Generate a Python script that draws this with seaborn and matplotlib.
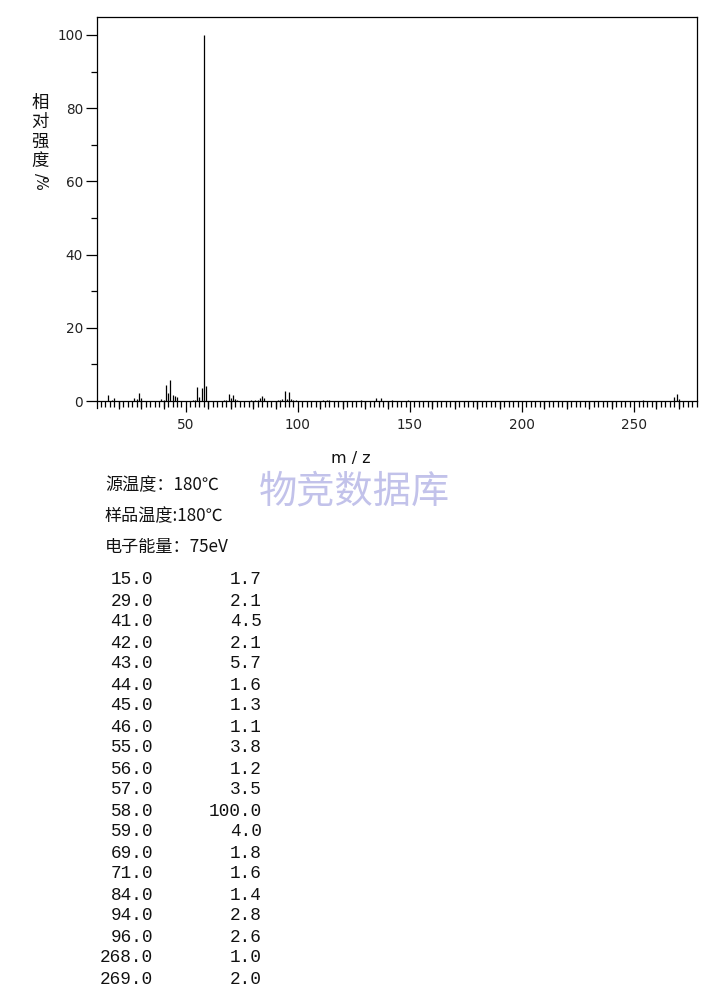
import numpy as np
import pandas as pd
import matplotlib
matplotlib.use("Agg")
import matplotlib.pyplot as plt
from matplotlib.ticker import MultipleLocator, FixedLocator
import seaborn as sns

# ---- data ----
peak_mz = [15, 17, 18, 27, 28, 29, 30, 39, 40, 41, 42, 43, 44, 45, 46, 53, 54, 55, 56, 57,
           58, 59, 67, 68, 69, 70, 71, 72, 73, 79, 81, 82, 83, 84, 85, 91, 92, 93, 94, 95,
           96, 97, 98, 99, 111, 113, 114, 128, 135, 137, 142, 149, 254, 268, 269, 270]
peak_int = [1.7, 0.3, 0.8, 0.8, 0.5, 2.1, 0.8, 0.5, 0.3, 4.5, 2.1, 5.7, 1.6, 1.3, 1.1, 0.3, 0.3, 3.8, 1.2, 3.5,
            100.0, 4.0, 0.3, 0.3, 1.8, 0.8, 1.6, 0.5, 0.3, 0.3, 0.3, 0.3, 0.8, 1.4, 0.8, 0.3, 0.3, 0.5, 2.8, 0.5,
            2.6, 0.5, 0.3, 0.3, 0.3, 0.3, 0.3, 0.3, 0.8, 0.8, 0.3, 0.3, 0.3, 1.0, 2.0, 0.5]

table_mz = [15.0, 29.0, 41.0, 42.0, 43.0, 44.0, 45.0, 46.0, 55.0, 56.0, 57.0, 58.0, 59.0,
            69.0, 71.0, 84.0, 94.0, 96.0, 268.0, 269.0]
table_int = [1.7, 2.1, 4.5, 2.1, 5.7, 1.6, 1.3, 1.1, 3.8, 1.2, 3.5, 100.0, 4.0,
             1.8, 1.6, 1.4, 2.8, 2.6, 1.0, 2.0]

x_major_ticks = [50, 100, 150, 200, 250]
y_major_ticks = [0, 20, 40, 60, 80, 100]
info_lines = ["源温度：180℃", "样品温度:180℃", "电子能量：75eV"]
watermark = "物竞数据库"
xlabel = "m / z"
ylabel_chars = ["相", "对", "强", "度"]
ylabel_unit = ["/", "%"]

df = pd.DataFrame({"mz": peak_mz, "intensity": peak_int})

sns.set_style("ticks")
plt.rcParams['font.family'] = ['DejaVu Sans', 'Noto Sans CJK SC']

W, H = 709, 986
fig = plt.figure(figsize=(W / 100, H / 100), dpi=100)


def fx(px):
    return px / W


def fy(py):
    return 1 - py / H


ax = fig.add_axes([fx(97), fy(408), 600 / W, 391 / H])

ax.vlines(df["mz"], 0, df["intensity"], color="black", linewidth=0.9)
sns.despine(ax=ax, top=False, right=False)

ax.set_xlim(10.3, 278.1)
ax.set_ylim(-1.9, 104.9)

for s in ax.spines.values():
    s.set_linewidth(0.9)
    s.set_color("black")
ax.spines["bottom"].set_position(("data", 0))
ax.spines["right"].set_bounds(0, 104.9)

ax.xaxis.set_major_locator(FixedLocator(x_major_ticks))
ax.xaxis.set_minor_locator(MultipleLocator(2))
ax.yaxis.set_major_locator(FixedLocator(y_major_ticks))
ax.yaxis.set_minor_locator(MultipleLocator(10))

ax.tick_params(axis="x", which="major", direction="out", length=8, width=0.9,
               labelsize=9.8, pad=4, colors="black", labelcolor="#222222")
ax.tick_params(axis="x", which="minor", direction="out", length=4.2, width=0.9, colors="black")
ax.tick_params(axis="y", which="major", direction="out", length=8, width=0.9,
               labelsize=9.8, pad=2, colors="black", labelcolor="#222222")
ax.tick_params(axis="y", which="minor", direction="out", length=4.5, width=0.9, colors="black")

# medium ticks every 10
zero_frac = (0 - (-1.9)) / (104.9 - (-1.9))
sec = ax.secondary_xaxis(zero_frac)
sec.xaxis.set_major_locator(FixedLocator([t for t in range(20, 280, 10) if t % 50 != 0]))
sec.tick_params(axis="x", direction="out", length=5.8, width=0.9, labelbottom=False, colors="black")
sec.spines["bottom"].set_visible(False)

# axis labels
fig.text(fx(351), fy(458), xlabel, ha="center", va="center", fontsize=11.5, color="#111111",
         family="DejaVu Sans")
for i, ch in enumerate(ylabel_chars):
    fig.text(fx(40), fy(103 + 19.3 * i), ch, ha="center", va="center", fontsize=12.5,
             family=["Noto Sans CJK SC"], color="#111111")
for i, ch in enumerate(ylabel_unit):
    fig.text(fx(40), fy(175 + 8 * i), ch, ha="center", va="center", fontsize=10.5, rotation=-90,
             family="DejaVu Sans", color="#111111")

# info text
for i, line in enumerate(info_lines):
    fig.text(fx(105), fy(485 + 31 * i), line, ha="left", va="center", fontsize=12.3,
             family=["Noto Sans CJK SC", "DejaVu Sans"], color="#111111")

# watermark
fig.text(fx(355), fy(492), watermark, ha="center", va="center", fontsize=27.5,
         family=["Noto Sans CJK SC"], color="#c2c2ea")

# peak table
for i, (m, v) in enumerate(zip(table_mz, table_int)):
    y = fy(580 + 21 * i)
    fig.text(fx(153), y, f"{m:.1f}", ha="right", va="center", fontsize=12.8,
             family="Liberation Mono", color="#111111")
    fig.text(fx(262), y, f"{v:.1f}", ha="right", va="center", fontsize=12.8,
             family="Liberation Mono", color="#111111")

fig.savefig("out.png", dpi=100)
